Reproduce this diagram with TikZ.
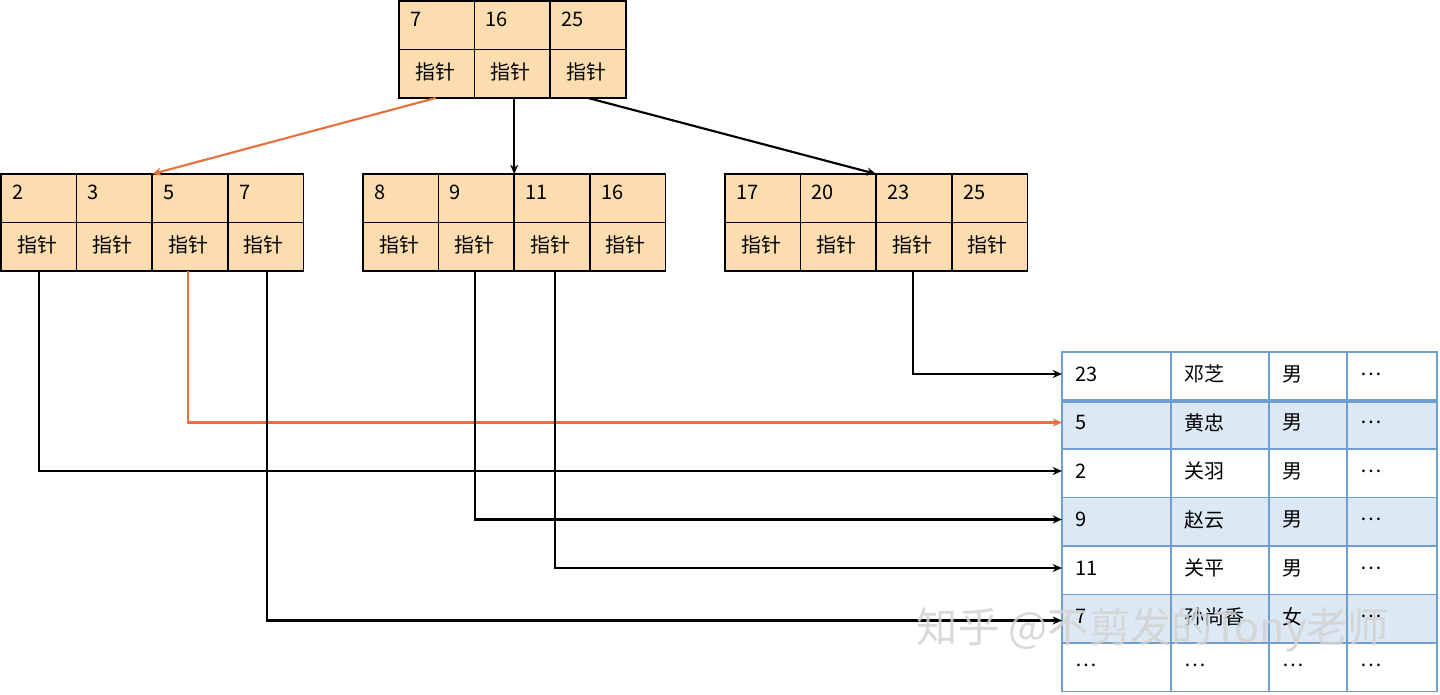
\documentclass[tikz,border=0pt]{standalone}
\usepackage{fontspec}
\setmainfont{Noto Sans CJK SC}
\usetikzlibrary{arrows.meta,calc}
\definecolor{peach}{HTML}{FCDDB0}
\definecolor{tblue}{HTML}{DCE8F4}
\definecolor{tline}{HTML}{6F9FCF}
\definecolor{orng}{HTML}{E8703A}
\tikzset{
 cell/.style={draw=black,fill=peach,line width=1.2pt,inner sep=0pt,outer sep=0pt},
 num/.style={anchor=north west,font=\fontsize{15}{15}\selectfont,inner sep=0pt},
 ptr/.style={font=\fontsize{15}{15}\selectfont,inner sep=0pt},
 tt/.style={anchor=west,font=\fontsize{15}{15}\selectfont,inner sep=0pt},
 conn/.style={line width=1.6pt,-{Stealth[length=7pt,width=6pt]}},
}
\begin{document}
\begin{tikzpicture}[x=0.75pt,y=-0.75pt]
\useasboundingbox (0,0) rectangle (1440,694);
\newcommand{\bnode}[4]{%
 \foreach \v [count=\i] in {#4}{
  \pgfmathsetmacro{\xx}{#2+(\i-1)*75.6}
  \node[cell,minimum width=56.7pt,minimum height=36.4pt,anchor=north west] (#1t\i) at (\xx,#3) {};
  \node[cell,minimum width=56.7pt,minimum height=36.4pt,anchor=north west] (#1b\i) at (\xx,#3+48.5) {};
  \node[num] at (\xx+11,#3+11) {\v};
  \node[ptr] at (\xx+36,#3+48.5+22) {指针};
 }}
\bnode{r}{399}{1}{7,16,25}
\bnode{a}{1}{174}{2,3,5,7}
\bnode{m}{363}{174}{8,9,11,16}
\bnode{c}{725}{174}{17,20,23,25}
% table
\foreach \r/\f [count=\i] in {{23,邓芝,男,⋯}/white,{5,黄忠,男,⋯}/tblue,{2,关羽,男,⋯}/white,{9,赵云,男,⋯}/tblue,{11,关平,男,⋯}/white,{7,孙尚香,女,⋯}/tblue,{⋯,⋯,⋯,⋯}/white}{
 \pgfmathsetmacro{\yy}{352+(\i-1)*48.5}
 \foreach \xa/\xb in {1062/1171,1171/1269,1269/1347,1347/1437}{
  \draw[draw=tline,fill=\f,line width=1pt] (\xa,\yy) rectangle (\xb,\yy+48.5);
 }
 \foreach \t [count=\j] in \r {
  \pgfmathsetmacro{\xs}{{1062,1171,1269,1347}[\j-1]+13}
  \node[tt] at (\xs,\yy+22) {\t};
 }
 \coordinate (row\i) at (1062,\yy+22);
}
\draw[tline,line width=2.5pt] (1062,401) -- (1437,401);
% connectors
\draw[conn,orng] (rb1.south east)++(-39,0) -- (at3.north west);
\draw[conn] (mt3.north west|-rb2.south) -- (mt3.north west);
\draw[conn] (rb3.south west)++(38,0) -- (ct3.north west);
\draw[conn] (ab1.south) |- (row3);
\draw[conn,orng] (ab3.south) ++(-2,0) |- (row2);
\draw[conn] (ab4.south) ++(1,0) |- ($(row6)+(0,4)$);
\draw[conn] (mb2.south) ++(-1,0) |- (row4);
\draw[conn] (mb3.south) ++(3,0) |- (row5);
\draw[conn] (cb3.south) ++(-1,0) |- (row1);
% watermark
\node[anchor=west,text=gray!35,opacity=0.85,font=\fontsize{31}{31}\selectfont] at (912,630) {知乎 @不剪发的Tony老师};
\end{tikzpicture}
\end{document}
